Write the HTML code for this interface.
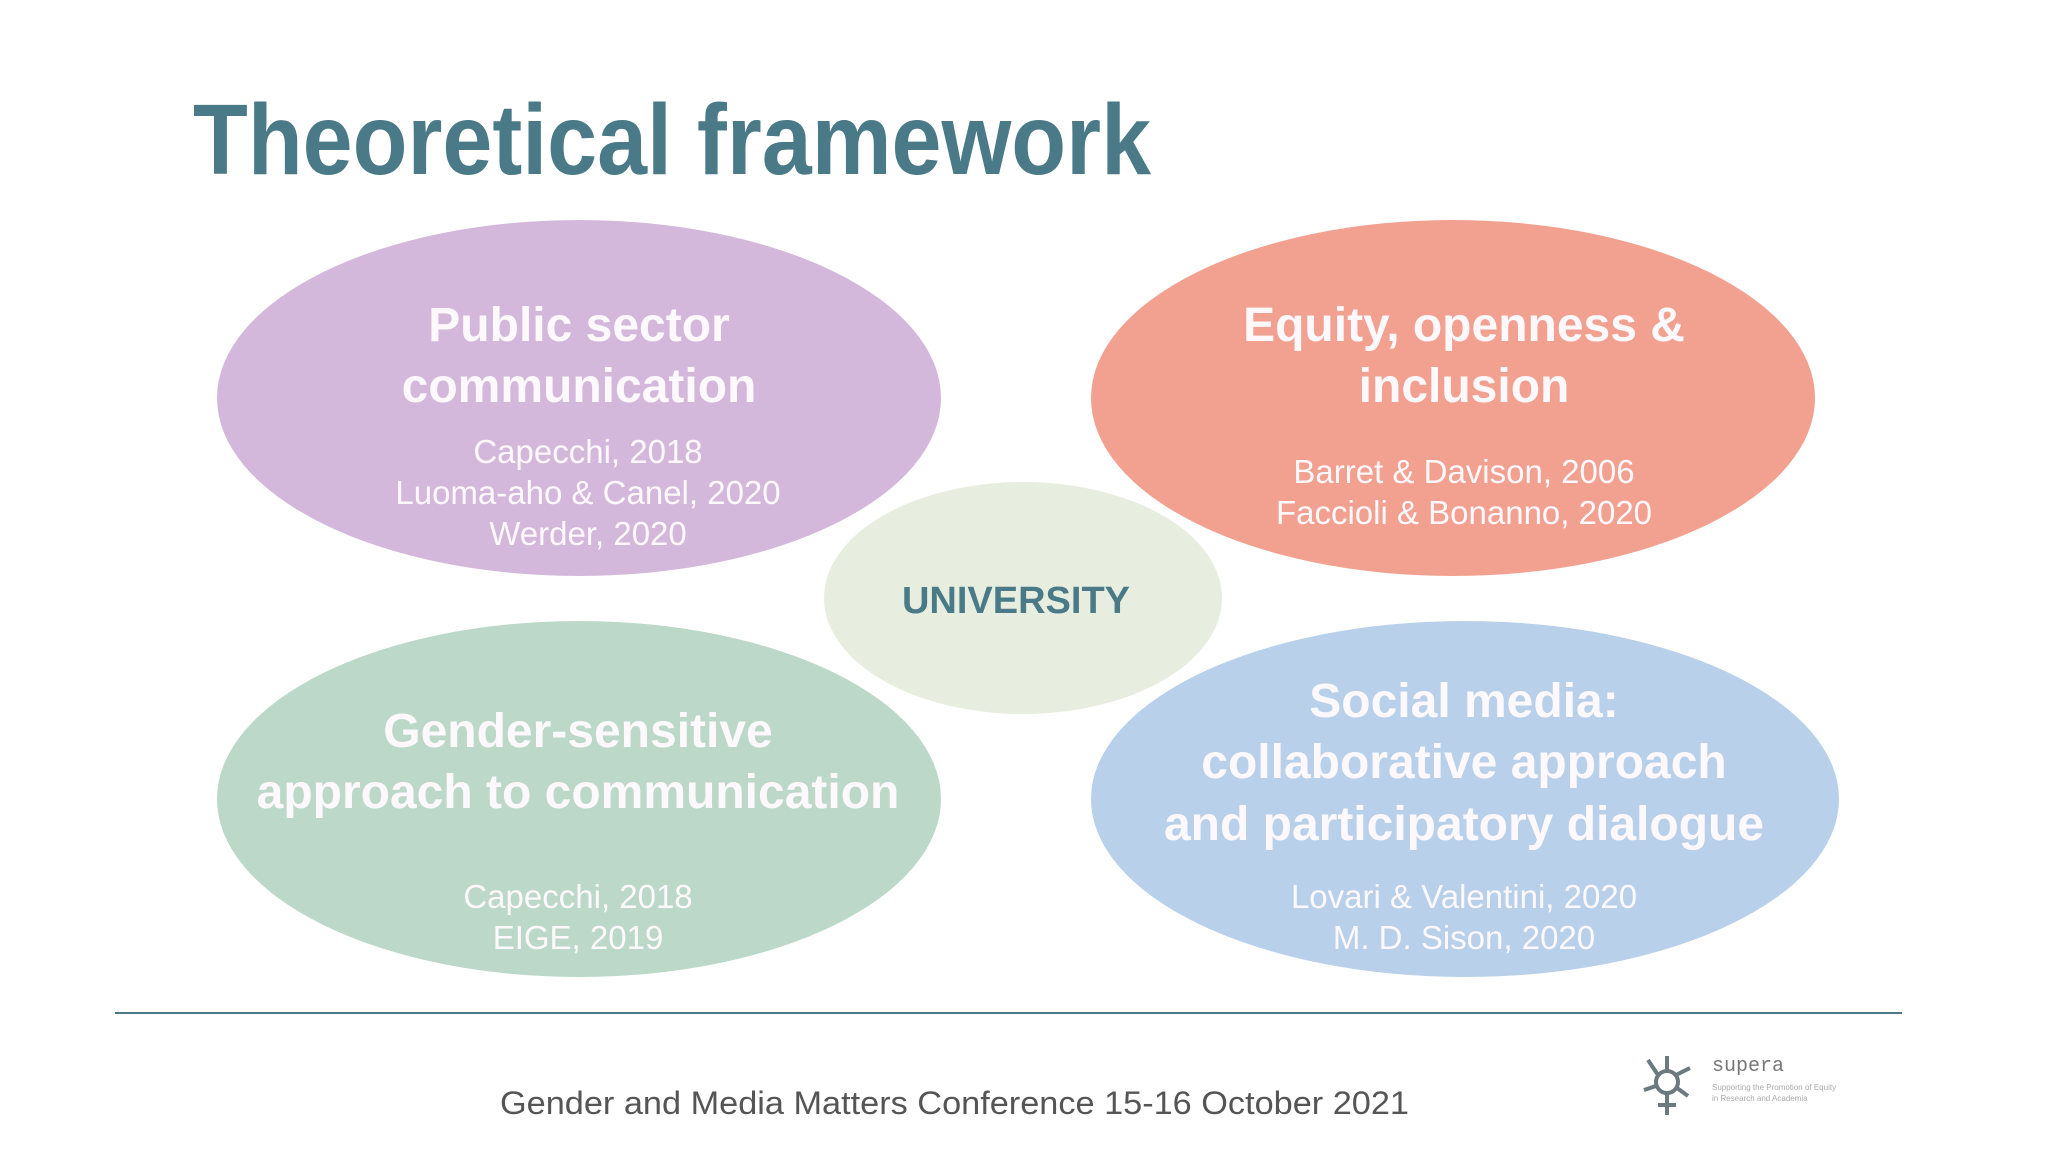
<!DOCTYPE html>
<html><head><meta charset="utf-8"><style>
html,body{margin:0;padding:0;background:#fff;}
svg{display:block;font-family:"Liberation Sans",sans-serif;}
</style></head><body>
<svg width="2048" height="1152" viewBox="0 0 2048 1152">
<text x="193" y="174" font-size="100" font-weight="bold" fill="#4a7a87" textLength="958" lengthAdjust="spacingAndGlyphs">Theoretical framework</text>

<ellipse cx="1023" cy="598" rx="199" ry="116" fill="#e8eedf"/>
<ellipse cx="579" cy="398" rx="362" ry="178" fill="#d4b8dc"/>
<ellipse cx="1453" cy="398" rx="362" ry="178" fill="#f2a190"/>
<ellipse cx="579" cy="799" rx="362" ry="178" fill="#bcd8c8"/>
<ellipse cx="1465" cy="799" rx="374" ry="178" fill="#b8d0ea"/>

<g fill="#fdf8fb" text-anchor="middle">
<g font-weight="bold" font-size="48">
<text x="579" y="341">Public sector</text>
<text x="579" y="402">communication</text>
</g>
<g font-size="33">
<text x="588" y="463">Capecchi, 2018</text>
<text x="588" y="504">Luoma-aho &amp; Canel, 2020</text>
<text x="588" y="545">Werder, 2020</text>
</g>
<g font-weight="bold" font-size="48">
<text x="1464" y="341">Equity, openness &amp;</text>
<text x="1464" y="402">inclusion</text>
</g>
<g font-size="33">
<text x="1464" y="483">Barret &amp; Davison, 2006</text>
<text x="1464" y="524">Faccioli &amp; Bonanno, 2020</text>
</g>
<g font-weight="bold" font-size="48">
<text x="578" y="747">Gender-sensitive</text>
<text x="578" y="808">approach to communication</text>
</g>
<g font-size="33">
<text x="578" y="908">Capecchi, 2018</text>
<text x="578" y="949">EIGE, 2019</text>
</g>
<g font-weight="bold" font-size="48">
<text x="1464" y="717">Social media:</text>
<text x="1464" y="778">collaborative approach</text>
<text x="1464" y="840">and participatory dialogue</text>
</g>
<g font-size="33">
<text x="1464" y="908">Lovari &amp; Valentini, 2020</text>
<text x="1464" y="949">M. D. Sison, 2020</text>
</g>
</g>
<text x="1016" y="613" text-anchor="middle" font-size="38" font-weight="bold" fill="#4a7a87">UNIVERSITY</text>

<line x1="115" y1="1013" x2="1902" y2="1013" stroke="#4a7a87" stroke-width="2"/>
<text x="500" y="1114" font-size="32" fill="#555" textLength="909" lengthAdjust="spacingAndGlyphs">Gender and Media Matters Conference  15-16 October 2021</text>

<g stroke="#6a7a7e" stroke-width="4" fill="none">
<circle cx="1667" cy="1082" r="11"/>
<line x1="1667" y1="1093" x2="1667" y2="1115"/>
<line x1="1658" y1="1105" x2="1676" y2="1105"/>
<line x1="1676" y1="1075" x2="1690" y2="1068"/>
<line x1="1658" y1="1075" x2="1648" y2="1060"/>
<line x1="1667" y1="1071" x2="1667" y2="1056"/>
<line x1="1656" y1="1086" x2="1644" y2="1090"/>
<line x1="1677" y1="1088" x2="1688" y2="1096"/>
</g>
<text x="1712" y="1071" font-family="Liberation Mono,monospace" font-size="20" fill="#777">supera</text>
<text x="1712" y="1090" font-size="8" fill="#aaa">Supporting the Promotion of Equity</text>
<text x="1712" y="1101" font-size="8" fill="#aaa">in Research and Academia</text>
</svg>
</body></html>
